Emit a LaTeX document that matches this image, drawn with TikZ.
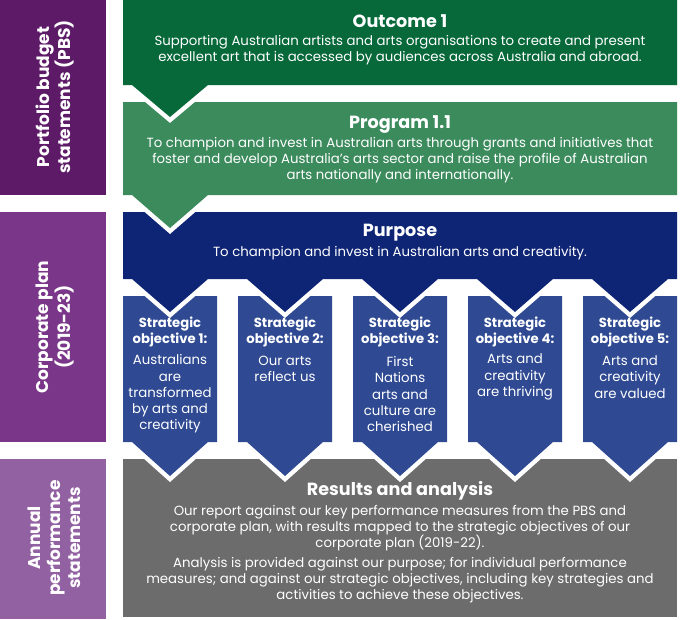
\documentclass[tikz,border=0pt]{standalone}
\usepackage{fontspec}
\setmainfont{Poppins}
\definecolor{pbsP}{HTML}{5C1A67}
\definecolor{corpP}{HTML}{7A3688}
\definecolor{apsP}{HTML}{9161A2}
\definecolor{outG}{HTML}{07693A}
\definecolor{progG}{HTML}{3B8B5D}
\definecolor{purpB}{HTML}{0E2475}
\definecolor{objB}{HTML}{2F4A93}
\definecolor{resG}{HTML}{6C6C6C}
\begin{document}
\begin{tikzpicture}[x=1pt,y=-1pt,
  shp/.style={fill=#1, preaction={draw=white, line width=9pt}},
  body/.style={text=white, align=center, inner sep=0pt, font=\fontsize{13.3}{16.3}\selectfont},
  head/.style={text=white, align=center, inner sep=0pt, font=\fontsize{17.6}{20}\selectfont\bfseries},
  objh/.style={text=white, align=center, inner sep=0pt, font=\fontsize{13.2}{16.3}\selectfont\bfseries},
  lab/.style={text=white, align=center, inner sep=0pt, rotate=90, font=\fontsize{17}{20}\selectfont\bfseries}]
\useasboundingbox (0,0) rectangle (680,619);
\fill[white] (0,0) rectangle (680,619);
% left column
\fill[pbsP] (0,0) rectangle (106,195);
\fill[corpP] (0,212) rectangle (106,442);
\fill[apsP] (0,459) rectangle (106,619);
\node[lab] (pbs) at (55,97) {Portfolio budget\\statements (PBS)};
\node[lab] (corp) at (55,327) {Corporate plan\\(2019-23)};
\node[lab] (aps) at (54,538) {Annual\\performance\\statements};
% results
\fill[resG] (123,459) rectangle (677,617);
% objectives
\foreach \i in {0,...,4}{
  \pgfmathsetmacro{\xl}{123+115*\i}
  \pgfmathsetmacro{\cx}{\xl+47}
  \path[shp=objB] (\xl,296) -- (\xl+94,296) -- (\xl+94,442) -- (\cx+38,442) -- (\cx,476) -- (\cx-38,442) -- (\xl,442) -- cycle;
}
% purpose
\path[shp=purpB] (123,212) -- (677,212) -- (677,279)
  -- (668,279) -- (630,312) -- (592,279)
  -- (553,279) -- (515,312) -- (477,279)
  -- (438,279) -- (400,312) -- (362,279)
  -- (323,279) -- (285,312) -- (247,279)
  -- (208,279) -- (170,312) -- (132,279)
  -- (123,279) -- cycle;
% program
\path[shp=progG] (123,102) -- (677,102) -- (677,195) -- (208,195) -- (170,228) -- (132,195) -- (123,195) -- cycle;
% outcome
\path[shp=outG] (123,0) -- (677,0) -- (677,85) -- (208,85) -- (170,117) -- (132,85) -- (123,85) -- cycle;
% texts
\node[head] (outh) at (400,21) {Outcome 1};
\node[body] (outb) at (400,50) {Supporting Australian artists and arts organisations to create and present\\excellent art that is accessed by audiences across Australia and abroad.};
\node[head] (progh) at (400,124) {Program 1.1};
\node[body] (progb) at (400,160) {To champion and invest in Australian arts through grants and initiatives that\\foster and develop Australia’s arts sector and raise the profile of Australian\\arts nationally and internationally.};
\node[head] (purph) at (400,233) {Purpose};
\node[body] (purpb) at (400,253) {To champion and invest in Australian arts and creativity.};
\node[objh] (o1h) at (170,332) {Strategic\\objective 1:};
\node[objh] (o2h) at (285,332) {Strategic\\objective 2:};
\node[objh] (o3h) at (400,332) {Strategic\\objective 3:};
\node[objh] (o4h) at (515,332) {Strategic\\objective 4:};
\node[objh] (o5h) at (630,332) {Strategic\\objective 5:};
\node[body] (o1b) at (170,394) {Australians\\are\\transformed\\by arts and\\creativity};
\node[body] (o2b) at (285,369) {Our arts\\reflect us};
\node[body] (o3b) at (400,394) {First\\Nations\\arts and\\culture are\\cherished};
\node[body] (o4b) at (515,377) {Arts and\\creativity\\are thriving};
\node[body] (o5b) at (630,377) {Arts and\\creativity\\are valued};
\node[head] (resh) at (400,491) {Results and analysis};
\node[body] (resb1) at (400,528) {Our report against our key performance measures from the PBS and\\corporate plan, with results mapped to the strategic objectives of our\\corporate plan (2019-22).};
\node[body] (resb2) at (400,580) {Analysis is provided against our purpose; for individual performance\\measures; and against our strategic objectives, including key strategies and\\activities to achieve these objectives.};
\end{tikzpicture}
\end{document}
